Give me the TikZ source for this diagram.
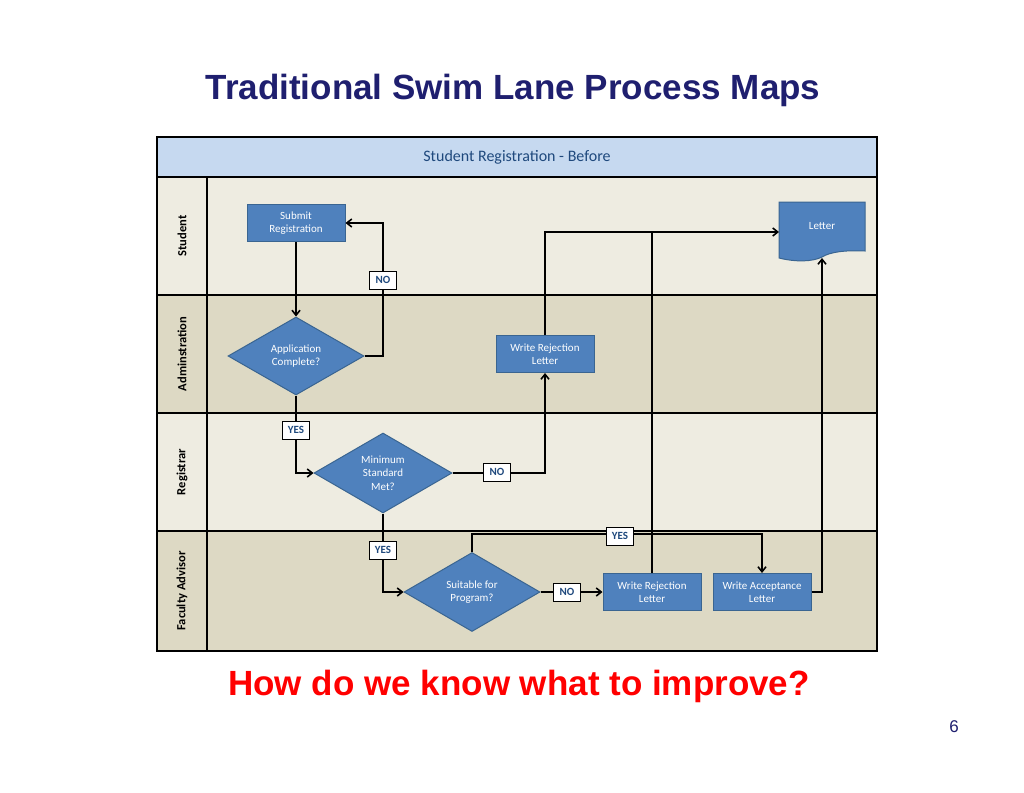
\documentclass[tikz,border=0pt]{standalone}
\usepackage{fontspec}
\setmainfont{Carlito}
\newfontfamily\arialb{Liberation Sans}
\usetikzlibrary{arrows.meta,shapes.geometric}
\definecolor{boxblue}{HTML}{4F81BD}
\definecolor{boxedge}{HTML}{3A6591}
\definecolor{laneA}{HTML}{EEECE1}
\definecolor{laneB}{HTML}{DDD9C4}
\definecolor{head}{HTML}{C6D9F0}
\definecolor{navy}{HTML}{1F1F6F}
\definecolor{headtxt}{HTML}{1F497D}
\tikzset{
  pbox/.style={draw=boxedge,fill=boxblue,line width=1pt,text=white,font=\fontsize{11}{13.5}\selectfont,align=center,minimum width=98pt,minimum height=37pt,inner sep=1pt},
  dbox/.style={diamond,draw=boxedge,fill=boxblue,line width=1pt,text=white,font=\fontsize{11}{13.5}\selectfont,align=center,aspect=1.75,inner sep=0pt},
  lbl/.style={draw=black,fill=white,line width=0.8pt,font=\bfseries\fontsize{11}{13}\selectfont,text=headtxt,minimum width=27pt,minimum height=18pt,inner sep=1pt},
  conn/.style={line width=1.6pt,-{Straight Barb[length=5pt,width=8pt]}},
  plain/.style={line width=1.6pt},
  lanetxt/.style={rotate=90,font=\bfseries\fontsize{12.5}{15}\selectfont}
}
\begin{document}
\begin{tikzpicture}[x=1pt,y=-1pt]
\useasboundingbox (0,0) rectangle (1024,792);
\fill[white] (0,0) rectangle (1024,792);
% title
\node[font=\arialb\bfseries\fontsize{35}{40}\selectfont,text=navy] (title) at (513,90) {Traditional Swim Lane Process Maps};
% lanes
\fill[head] (157,137) rectangle (877,177);
\fill[laneA] (157,177) rectangle (877,295);
\fill[laneB] (157,295) rectangle (877,413);
\fill[laneA] (157,413) rectangle (877,531);
\fill[laneB] (157,531) rectangle (877,651);
\draw[line width=2pt] (157,137) rectangle (877,651);
\draw[line width=2pt] (157,177) -- (877,177);
\draw[line width=2pt] (157,295) -- (877,295);
\draw[line width=2pt] (157,413) -- (877,413);
\draw[line width=2pt] (157,531) -- (877,531);
\draw[line width=2pt] (207,177) -- (207,651);
\node[font=\fontsize{16}{19}\selectfont,text=headtxt] (hdr) at (517,157) {Student Registration - Before};
\node[lanetxt] (l1) at (182,236) {Student};
\node[lanetxt] (l2) at (182,354) {Adminstration};
\node[lanetxt] (l3) at (182,472) {Registrar};
\node[lanetxt] (l4) at (182,591) {Faculty Advisor};
% nodes
\node[pbox] (submit) at (296,223) {Submit\\Registration};
\node[dbox,minimum width=136pt,minimum height=78pt] (app) at (296,356) {Application\\Complete?};
\node[pbox] (rej1) at (545,354) {Write Rejection\\Letter};
\node[dbox,minimum width=138pt,minimum height=80pt] (min) at (383,473) {Minimum\\Standard\\Met?};
\node[dbox,minimum width=136pt,minimum height=79pt] (suit) at (472,592) {Suitable for\\Program?};
\node[pbox] (rej2) at (652,592) {Write Rejection\\Letter};
\node[pbox] (acc) at (762,592) {Write Acceptance\\Letter};
\draw[draw=boxedge,fill=boxblue,line width=1pt] (779,202) -- (865,202) -- (865,251)
  .. controls (845,250) and (830,252) .. (822,257) .. controls (812,262) and (795,262) .. (779,258) -- cycle;
\node[text=white,font=\fontsize{11}{13}\selectfont] (letter) at (822,226) {Letter};
\coordinate (letterL) at (779,232);
\coordinate (letterB) at (822,258);
% connectors
\draw[conn] (submit.south) -- (app.north);
\draw[conn] (app.east) -- (383,356) -- (383,223) -- (submit.east);
\draw[conn] (app.south) -- (296,473) -- (min.west);
\draw[conn] (min.east) -- (545,473) -- (rej1.south);
\draw[conn] (rej1.north) -- (545,232) -- (letterL);
\draw[conn] (min.south) -- (383,592) -- (suit.west);
\draw[conn] (suit.east) -- (rej2.west);
\draw[conn] (suit.north) -- (472,534) -- (762,534) -- (acc.north);
\draw[plain] (rej2.north) -- (652,232);
\draw[conn] (acc.east) -- (822,592) -- (letterB);
% labels
\node[lbl] (no1) at (383,280) {NO};
\node[lbl] (no2) at (497,472) {NO};
\node[lbl] (no3) at (567,592) {NO};
\node[lbl] (yes1) at (296,430) {YES};
\node[lbl] (yes2) at (383,550) {YES};
\node[lbl] (yes3) at (620,536) {YES};
% bottom
\node[font=\arialb\bfseries\fontsize{35}{40}\selectfont,text=red] (q) at (519,686) {How do we know what to improve?};
\node[font=\arialb\fontsize{17}{20}\selectfont,text=navy] (pg) at (954,727) {6};
\end{tikzpicture}
\end{document}
